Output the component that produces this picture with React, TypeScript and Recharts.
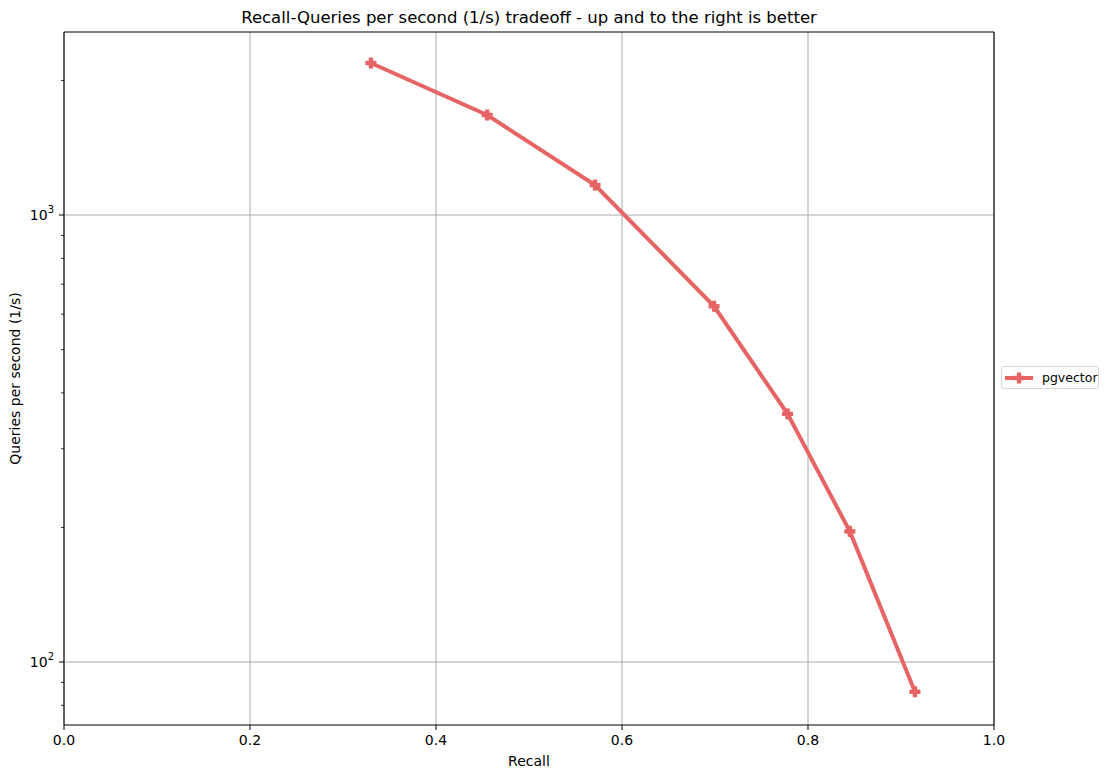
import React from "react";
import {
  LineChart,
  Line,
  XAxis,
  YAxis,
  CartesianGrid,
  ReferenceLine,
} from "recharts";

const recall = [0.33, 0.455, 0.571, 0.699, 0.778, 0.845, 0.915];
const qps = [2188, 1674, 1167, 625, 359, 196, 85.8];
const xTicks = [0, 0.2, 0.4, 0.6, 0.8, 1.0];
const yMajorTicks = [100, 1000];
const yMinorTicks = [80, 90, 200, 300, 400, 500, 600, 700, 800, 900, 2000];
const SERIES_NAME = "pgvector";

const data = recall.map((r, i) => ({ recall: r, qps: qps[i] }));
const yAllTicks = [...yMinorTicks, ...yMajorTicks].sort((a, b) => a - b);

const W = 1111;
const H = 778;
const FONT = "'DejaVu Sans', sans-serif";
const COLOR = "#e66464";
const Y_DOMAIN: [number, number] = [72.3, 2567];
const SPINE = { stroke: "#000", strokeWidth: 1.1 };

const PlusDot = (props: any) => {
  const { cx, cy } = props;
  if (cx == null || cy == null) return null;
  const s = 5.5;
  const t = 2.2;
  return (
    <g fill={COLOR}>
      <rect x={cx - s} y={cy - t} width={2 * s} height={2 * t} />
      <rect x={cx - t} y={cy - s} width={2 * t} height={2 * s} />
    </g>
  );
};

// log axis tick: long tick + 10^n label for decades, short bare tick otherwise
const LogTick = (props: any) => {
  const { x, y, payload } = props;
  const v = payload.value;
  const major = yMajorTicks.includes(v);
  if (!major) {
    return <line x1={x} x2={x - 3} y1={y} y2={y} stroke="#000" strokeWidth={0.8} />;
  }
  const exp = Math.round(Math.log10(v));
  return (
    <g>
      <line x1={x} x2={x - 5} y1={y} y2={y} stroke="#000" strokeWidth={1} />
      <text x={x - 10} y={y + 5} textAnchor="end" fontFamily={FONT} fontSize={14} fill="#000">
        <tspan>10</tspan>
        <tspan dy={-7} fontSize={10}>{exp}</tspan>
      </text>
    </g>
  );
};

export default function App() {
  return (
    <div style={{ position: "absolute", left: 0, top: 0, width: W, height: H, background: "#fff" }}>
      <LineChart
        width={W}
        height={H}
        data={data}
        margin={{ top: 32, right: 117, bottom: 0, left: 0 }}
      >
        <CartesianGrid
          stroke="#aaaaaa"
          strokeWidth={1}
          yAxisId="major"
          xAxisId="main"
          horizontalValues={yMajorTicks}
          verticalValues={xTicks}
        />
        <XAxis
          xAxisId="main"
          dataKey="recall"
          type="number"
          domain={[0, 1]}
          ticks={xTicks}
          tickFormatter={(v: number) => v.toFixed(1)}
          height={53}
          axisLine={SPINE}
          tickLine={{ stroke: "#000" }}
          tickSize={5}
          tickMargin={5}
          tick={{ fill: "#000", fontSize: 14, fontFamily: FONT }}
          label={{ value: "Recall", position: "insideBottom", offset: 12, fill: "#000", fontSize: 14, fontFamily: FONT }}
        />
        <YAxis
          yAxisId="major"
          dataKey="qps"
          scale="log"
          type="number"
          domain={Y_DOMAIN}
          allowDataOverflow
          ticks={yAllTicks}
          interval={0}
          width={64}
          axisLine={SPINE}
          tickLine={false}
          tickSize={0}
          tickMargin={0}
          tick={<LogTick />}
          label={{
            value: "Queries per second (1/s)",
            angle: -90,
            position: "insideLeft",
            offset: 15,
            style: { textAnchor: "middle" },
            fill: "#000",
            fontSize: 14,
            fontFamily: FONT,
          }}
        />
        {/* top and right spines */}
        <ReferenceLine xAxisId="main" yAxisId="major" y={Y_DOMAIN[1]} stroke="#000" strokeWidth={1.1} ifOverflow="visible" />
        <ReferenceLine xAxisId="main" yAxisId="major" x={1} stroke="#000" strokeWidth={1.1} ifOverflow="visible" />
        <Line
          xAxisId="main"
          yAxisId="major"
          dataKey="qps"
          name={SERIES_NAME}
          stroke={COLOR}
          strokeWidth={4}
          dot={<PlusDot />}
          activeDot={false}
          isAnimationActive={false}
        />
      </LineChart>
      <div
        style={{
          position: "absolute",
          left: 0,
          top: 8,
          width: 1058,
          textAlign: "center",
          fontFamily: FONT,
          fontSize: 16.5,
          color: "#000",
        }}
      >
        Recall-Queries per second (1/s) tradeoff - up and to the right is better
      </div>
      <div
        style={{
          position: "absolute",
          left: 1001,
          top: 366,
          width: 98,
          height: 23,
          boxSizing: "border-box",
          border: "1px solid #d6d6d6",
          borderRadius: 3,
          background: "#fff",
          display: "flex",
          alignItems: "center",
          fontFamily: FONT,
          fontSize: 12.5,
          color: "#000",
        }}
      >
        <svg width={40} height={20} style={{ flex: "none" }}>
          <line x1={3} y1={10} x2={31} y2={10} stroke={COLOR} strokeWidth={4} />
          <PlusDot cx={17} cy={10} />
        </svg>
        <span>{SERIES_NAME}</span>
      </div>
    </div>
  );
}
